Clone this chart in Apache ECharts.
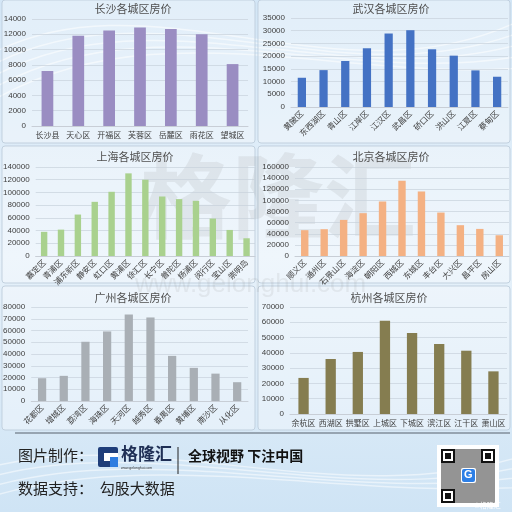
<!DOCTYPE html>
<html>
<head>
<meta charset="utf-8">
<script src="https://cdn.jsdelivr.net/npm/echarts@6/dist/echarts.min.js"></script>
<style>
  html,body{margin:0;padding:0;}
  #main{width:512px;height:512px;}
</style>
</head>
<body>
<div id="main"></div>
<script>
// 各城市数据
const csCats=['长沙县','天心区','开福区','芙蓉区','岳麓区','雨花区','望城区']
const csVals=[7200,11800,12500,12900,12700,12000,8100]
const whCats=['黄陂区','东西湖区','青山区','江岸区','江汉区','武昌区','硚口区','洪山区','江夏区','蔡甸区']
const whVals=[11500,14500,18100,23100,28900,30200,22700,20200,14400,11900]
const shCats=['嘉定区','青浦区','浦东新区','静安区','虹口区','黄浦区','徐汇区','长宁区','普陀区','杨浦区','闵行区','宝山区','崇明岛']
const shVals=[38000,41500,65200,85200,101000,130000,120000,93600,89500,86800,58900,41000,27900]
const bjCats=['顺义区','通州区','石景山区','海淀区','朝阳区','西城区','东城区','丰台区','大兴区','昌平区','房山区']
const bjVals=[46400,48200,64900,77000,98000,135300,116000,78100,55400,48700,37300]
const gzCats=['花都区','增城区','荔湾区','海珠区','天河区','越秀区','番禺区','黄埔区','南沙区','从化区']
const gzVals=[19400,21400,50400,59200,73700,71100,38400,28200,23300,16000]
const hzCats=['余杭区','西湖区','拱墅区','上城区','下城区','滨江区','江干区','萧山区']
const hzVals=[23600,36000,40600,61000,53000,45800,41400,27900]

const titles=['长沙各城区房价','武汉各城区房价','上海各城区房价','北京各城区房价','广州各城区房价','杭州各城区房价']
const yMax=[14000,35000,140000,160000,80000,70000]
const yStep=[2000,5000,20000,20000,10000,10000]
const colors=['#9a8dc2','#4472c4','#a9d18e','#f4b183','#a9afb5','#857d50']

const font='"Noto Sans CJK SC", sans-serif'
const cats=[csCats,whCats,shCats,bjCats,gzCats,hzCats]
const vals=[csVals,whVals,shVals,bjVals,gzVals,hzVals]
const rot=[0,45,45,45,45,0]

// 网格位置
const grids=[
  {left:32,top:19,width:216,height:107},
  {left:291,top:18,width:217,height:89},
  {left:35,top:167,width:220,height:89},
  {left:295,top:167,width:214,height:89},
  {left:30,top:307,width:218,height:94},
  {left:290,top:307,width:217,height:107}
]
const titlePos=[[128,-2],[386,-2],[130,146],[386,146],[128,287],[384,287]]

let chart=echarts.init(document.getElementById('main'))

let xAxis=[],yAxis=[],series=[],title=[]
for(let i=0;i<6;i++){
  xAxis.push({
    type:'category',gridIndex:i,data:cats[i],
    axisLine:{lineStyle:{color:'#c8ced6'}},
    axisTick:{show:false},
    axisLabel:{interval:0,rotate:rot[i],fontSize:8,color:'#404040',fontFamily:font,margin:5}
  })
  yAxis.push({
    type:'value',gridIndex:i,min:0,max:yMax[i],interval:yStep[i],
    axisLine:{show:false},axisTick:{show:false},
    axisLabel:{fontSize:8,color:'#404040',fontFamily:'"Liberation Sans", sans-serif',margin:6,
      formatter:function(v){return String(v)}},
    splitLine:{lineStyle:{color:'rgba(200,210,220,0.7)'}}
  })
  series.push({
    type:'bar',xAxisIndex:i,yAxisIndex:i,data:vals[i],
    barWidth:'38%',itemStyle:{color:colors[i]},silent:true
  })
  title.push({
    text:titles[i],left:titlePos[i][0],top:titlePos[i][1],textAlign:'center',
    textStyle:{fontSize:11,fontWeight:'normal',color:'#505050',fontFamily:font}
  })
}

// 面板背景
const panels=[[2,0,253,143],[258,0,252,143],[2,146,253,137],[258,146,252,137],[2,286,253,144],[258,286,252,144]]
let graphic=[]
graphic.push({type:'rect',z:-10,shape:{x:0,y:0,width:512,height:512},
  style:{fill:new echarts.graphic.LinearGradient(0,0,0,1,[
    {offset:0,color:'#d3e6f6'},{offset:0.5,color:'#e6f1fa'},{offset:1,color:'#cfe4f5'}])}})
// 背景曲线
for(let k=0;k<5;k++){
  graphic.push({type:'bezierCurve',z:-9,shape:{x1:-20,y1:60+k*12,cpx1:150,cpy1:-40+k*10,cpx2:350,cpy2:120-k*8,x2:540,y2:10+k*14},
    style:{stroke:'rgba(255,255,255,0.55)',lineWidth:1.5,fill:null}})
}
for(let k=0;k<4;k++){
  graphic.push({type:'bezierCurve',z:-9,shape:{x1:-20,y1:470+k*10,cpx1:150,cpy1:420+k*8,cpx2:350,cpy2:520-k*6,x2:540,y2:450+k*12},
    style:{stroke:'rgba(255,255,255,0.5)',lineWidth:1.5,fill:null}})
}
panels.forEach(p=>{
  graphic.push({type:'rect',z:-8,shape:{x:p[0],y:p[1],width:p[2],height:p[3],r:3},
    style:{fill:'rgba(255,255,255,0.35)',stroke:'rgba(190,205,220,0.9)',lineWidth:1}})
})
// 水印
graphic.push({type:'text',z:-5,left:140,top:150,
  style:{text:'格隆汇',font:'bold 92px "Noto Sans CJK SC"',fill:'rgba(140,140,140,0.14)'}})
graphic.push({type:'text',z:-5,left:135,top:272,
  style:{text:'www.gelonghui.com',font:'26px "Liberation Sans"',fill:'rgba(140,140,140,0.13)'}})
// 底部
graphic.push({type:'line',shape:{x1:15,y1:433,x2:510,y2:433},style:{stroke:'#56606c',lineWidth:1}})
graphic.push({type:'text',left:18,top:448,style:{text:'图片制作：',font:'15px "Noto Sans CJK SC"',fill:'#222'}})
graphic.push({type:'rect',shape:{x:98,y:447,width:20,height:20,r:2},style:{fill:'#1f3e7a'}})
graphic.push({type:'rect',shape:{x:104,y:453,width:14,height:8},style:{fill:'#ffffff'}})
graphic.push({type:'rect',shape:{x:110,y:457,width:8,height:10},style:{fill:'#2e7de0'}})
graphic.push({type:'text',left:121,top:445,style:{text:'格隆汇',font:'bold 17px "Noto Sans CJK SC"',fill:'#1f2f55'}})
graphic.push({type:'text',left:121,top:466,style:{text:'www.gelonghui.com',font:'3.5px "Liberation Sans"',fill:'#333'}})
graphic.push({type:'line',shape:{x1:178,y1:447,x2:178,y2:474},style:{stroke:'#222',lineWidth:1}})
graphic.push({type:'text',left:188,top:449,style:{text:'全球视野 下注中国',font:'bold 14px "Noto Sans CJK SC"',fill:'#111'}})
graphic.push({type:'text',left:18,top:481,style:{text:'数据支持：  勾股大数据',font:'15px "Noto Sans CJK SC"',fill:'#222'}})
// 二维码
graphic.push({type:'rect',shape:{x:437,y:445,width:62,height:62},style:{fill:'#ffffff'}})
graphic.push({type:'rect',shape:{x:441,y:449,width:54,height:54},style:{fill:'rgba(60,60,60,0.55)'}})
const finders=[[441,449],[481,449],[441,489]]
finders.forEach(f=>{
  graphic.push({type:'rect',shape:{x:f[0],y:f[1],width:14,height:14},style:{fill:'#111'}})
  graphic.push({type:'rect',shape:{x:f[0]+2,y:f[1]+2,width:10,height:10},style:{fill:'#fff'}})
  graphic.push({type:'rect',shape:{x:f[0]+4,y:f[1]+4,width:6,height:6},style:{fill:'#111'}})
})
graphic.push({type:'rect',shape:{x:461,y:468,width:15,height:15,r:2},style:{fill:'#fff'}})
graphic.push({type:'rect',shape:{x:462,y:469,width:13,height:13,r:2},style:{fill:'#2d7fe6'}})
graphic.push({type:'text',left:464,top:469,style:{text:'G',font:'bold 11px "Liberation Sans"',fill:'#fff'}})
graphic.push({type:'text',left:474,top:502,style:{text:'©格隆汇',font:'7px "Noto Sans CJK SC"',fill:'#ffffff'}})

chart.setOption({
  animation:false,
  title:title,
  grid:grids,
  xAxis:xAxis,
  yAxis:yAxis,
  series:series,
  graphic:graphic
})
</script>
</body>
</html>
